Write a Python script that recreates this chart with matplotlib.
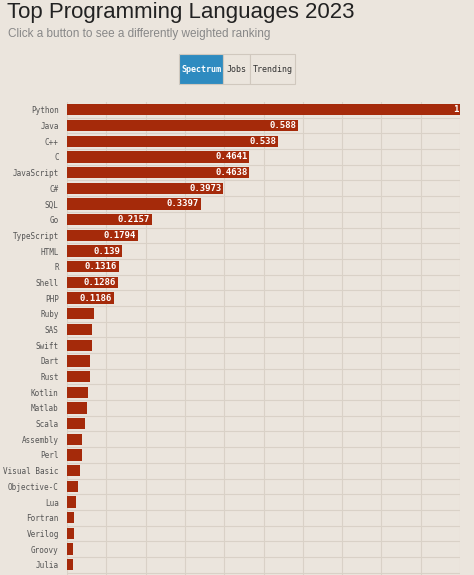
import matplotlib.pyplot as plt
from matplotlib.patches import Rectangle

languages = ["Python", "Java", "C++", "C", "JavaScript", "C#", "SQL", "Go", "TypeScript",
             "HTML", "R", "Shell", "PHP", "Ruby", "SAS", "Swift", "Dart", "Rust", "Kotlin",
             "Matlab", "Scala", "Assembly", "Perl", "Visual Basic", "Objective-C", "Lua",
             "Fortran", "Verilog", "Groovy", "Julia"]
scores = [1, 0.588, 0.538, 0.4641, 0.4638, 0.3973, 0.3397, 0.2157, 0.1794,
          0.139, 0.1316, 0.1286, 0.1186, 0.069, 0.064, 0.063, 0.059, 0.058, 0.053,
          0.051, 0.045, 0.039, 0.037, 0.033, 0.027, 0.023, 0.019, 0.018, 0.015, 0.014]
labeled = 13  # first bars carry value labels

BG = "#ebe5dd"
BAR = "#a52a0a"
GRID = "#d9d1c7"

fig = plt.figure(figsize=(4.74, 5.75), dpi=100, facecolor=BG)
fig.text(0.015, 0.997, "Top Programming Languages 2023", fontsize=16, va="top",
         color="#222222", family="Liberation Sans")
fig.text(0.017, 0.952, "Click a button to see a differently weighted ranking",
         fontsize=8.5, va="top", color="#888888", family="Liberation Sans")

# buttons
bx = [179, 223, 250]
bw = [44, 27, 45]
names = ["Spectrum", "Jobs", "Trending"]
for x, w, n in zip(bx, bw, names):
    active = n == "Spectrum"
    fig.patches.append(Rectangle((x / 474, 1 - 84 / 575), w / 474, 30 / 575,
                                 transform=fig.transFigure,
                                 facecolor="#2e8bc0" if active else BG,
                                 edgecolor="#d0c8be", lw=0.8))
    fig.text((x + w / 2) / 474, 1 - 69 / 575, n, ha="center", va="center", fontsize=6,
             family="DejaVu Sans Mono", weight="bold" if active else "normal",
             color="white" if active else "#333333")

ax = fig.add_axes([67 / 474, 0, 393 / 474, 1 - 102 / 575])
ax.set_facecolor(BG)
n = len(languages)
y = list(range(n))
ax.barh(y, scores, height=0.72, color=BAR, zorder=3)
ax.set_ylim(n - 0.35, -0.5)
ax.set_xlim(0, 1.0)
for i in range(labeled):
    ax.text(scores[i] - 0.004, i, str(scores[i]), ha="right", va="center", fontsize=6.5,
            color="white", weight="bold", family="DejaVu Sans Mono", zorder=4)
ax.set_yticks(y)
ax.set_yticklabels(languages, family="DejaVu Sans Mono", fontsize=5.5, color="#555555")
ax.set_xticks([i / 10 for i in range(11)])
ax.set_xticklabels([])
ax.set_yticks([i + 0.5 for i in range(n)], minor=True)
ax.tick_params(length=0, which="both", pad=6)
ax.grid(axis="x", color=GRID, lw=0.8, zorder=0)
ax.grid(axis="y", which="minor", color=GRID, lw=0.8, zorder=0)
for s in ax.spines.values():
    s.set_visible(False)

fig.savefig("out.png", dpi=100, facecolor=BG)
